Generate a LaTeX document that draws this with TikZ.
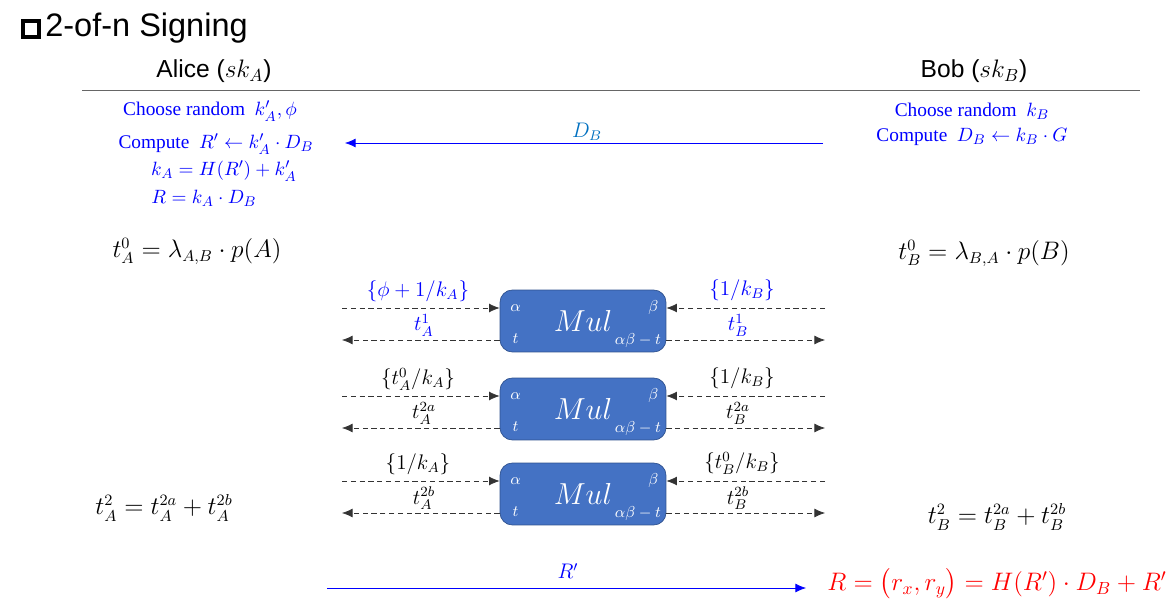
\documentclass[tikz,border=0pt]{standalone}
\usepackage{fontspec}
\usepackage{amsmath}
\setmainfont{Liberation Serif}
\newfontfamily\titlefont{Liberation Sans}
\usetikzlibrary{arrows.meta}
\definecolor{mulblue}{RGB}{68,114,196}
\definecolor{mulline}{RGB}{47,82,143}
\definecolor{ptblue}{RGB}{0,0,255}
\definecolor{dbblue}{RGB}{0,112,192}
\tikzstyle{mul}=[draw=mulline,fill=mulblue,rounded corners=7pt,minimum width=3.32cm,minimum height=1.24cm,inner sep=0pt]
\tikzstyle{port}=[text=white,font=\fontsize{9}{10}\selectfont,inner sep=0pt]
\tikzstyle{msg}=[-{Latex[length=6pt,width=5pt]},densely dashed,draw=black!80]
\tikzstyle{lab}=[font=\fontsize{12}{14}\selectfont,inner sep=0pt]
\tikzstyle{info}=[font=\fontsize{11}{13}\selectfont,inner sep=0pt,text=ptblue]
\tikzstyle{big}=[font=\fontsize{13.5}{16}\selectfont,inner sep=0pt]
\begin{document}
\begin{tikzpicture}[x=0.02cm,y=-0.02cm]
	\useasboundingbox (0,0) rectangle (1168,614);
	% title and parties
	\node [draw=black,line width=2.6pt,minimum size=0.32cm,inner sep=0pt] (box) at (31,29) {};
	\node [anchor=west,inner sep=0pt,font=\titlefont\fontsize{18.5}{22}\selectfont] (title) at (45,28) {2-of-n Signing};
	\node [font=\titlefont\fontsize{14}{16}\selectfont,inner sep=0pt] (alice) at (214,71) {Alice ($sk_A$)};
	\node [font=\titlefont\fontsize{14}{16}\selectfont,inner sep=0pt] (bob) at (974,71) {Bob ($sk_B$)};
	\coordinate (l0) at (82,90);
	\coordinate (l1) at (1140,90);
	\draw [black!60] (l0) -- (l1);
	% first round
	\node [info] (a1) at (210,111) {Choose random \ $k'_A,\phi$};
	\node [info] (a2) at (216,144) {Compute \ $R'\leftarrow k'_A\cdot D_B$};
	\node [info] (a3) at (224,171) {$k_A=H(R')+k'_A$};
	\node [info] (a4) at (204,198) {$R=k_A\cdot D_B$};
	\node [info] (b1) at (972,111) {Choose random \ $k_B$};
	\node [info] (b2) at (972,137) {Compute \ $D_B\leftarrow k_B\cdot G$};
	\coordinate (db0) at (823,143);
	\coordinate (db1) at (345,143);
	\draw [-{Latex[length=6pt,width=5pt]},ptblue] (db0) -- (db1);
	\node [lab,text=dbblue] (dblab) at (587,132) {$D_B$};
	\node [big] (ta0) at (197,251) {$t_A^0=\lambda_{A,B}\cdot p(A)$};
	\node [big] (tb0) at (984,253) {$t_B^0=\lambda_{B,A}\cdot p(B)$};
	% multiplications
	\foreach \i/\y/\la/\oa/\lb/\ob/\c in {
		1/321/{\{\phi+1/k_A\}}/{t_A^1}/{\{1/k_B\}}/{t_B^1}/ptblue,
		2/409/{\{t_A^0/k_A\}}/{t_A^{2a}}/{\{1/k_B\}}/{t_B^{2a}}/black,
		3/494/{\{1/k_A\}}/{t_A^{2b}}/{\{t_B^0/k_B\}}/{t_B^{2b}}/black} {
		\node [mul] (m\i) at (583,\y) {};
		\node [text=white,font=\fontsize{17}{20}\selectfont] at (m\i) {$Mul$};
		\node [port] at ([shift={(16,18)}]m\i.north west) {$\alpha$};
		\node [port] at ([shift={(-13,18)}]m\i.north east) {$\beta$};
		\node [port] at ([shift={(16,-14)}]m\i.south west) {$t$};
		\node [port,anchor=east] at ([shift={(-5,-12)}]m\i.south east) {$\alpha\beta-t$};
		\coordinate (ai\i) at (342,\y-13);
		\coordinate (ao\i) at (342,\y+19);
		\coordinate (bi\i) at (825,\y-13);
		\coordinate (bo\i) at (825,\y+19);
		\draw [msg] (ai\i) -- (ai\i -| m\i.west);
		\draw [msg] (ao\i -| m\i.west) -- (ao\i);
		\draw [msg] (bi\i) -- (bi\i -| m\i.east);
		\draw [msg] (bo\i -| m\i.east) -- (bo\i);
		\node [lab,text=\c] at (418,\y-30) {$\la$};
		\node [lab,text=\c] at (424,\y+4) {$\oa$};
		\node [lab,text=\c] at (742,\y-31) {$\lb$};
		\node [lab,text=\c] at (738,\y+4) {$\ob$};
	}
	% results
	\node [big] (ta2) at (164,508) {$t_A^2=t_A^{2a}+t_A^{2b}$};
	\node [big] (tb2) at (997,517) {$t_B^2=t_B^{2a}+t_B^{2b}$};
	\coordinate (r0) at (327,588);
	\coordinate (r1) at (806,588);
	\draw [-{Latex[length=6pt,width=5pt]},ptblue] (r0) -- (r1);
	\node [lab,text=ptblue] (rlab) at (568,571) {$R'$};
	\node [big,text=red,font=\fontsize{14}{16}\selectfont] (rfin) at (997,584) {$R=\big(r_x,r_y\big)=H(R')\cdot D_B+R'$};
\end{tikzpicture}
\end{document}
